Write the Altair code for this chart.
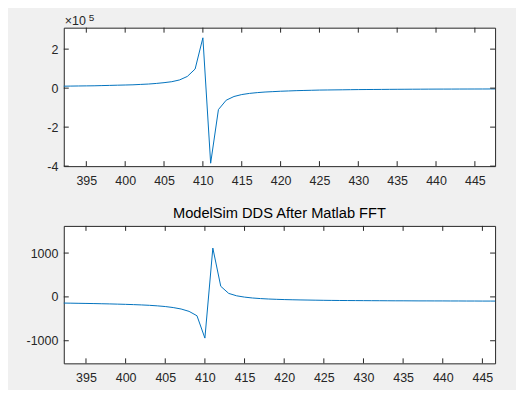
import altair as alt
import pandas as pd

# ---- data ----
x_top = list(range(392, 449))
y_top = [10000, 10500, 11000, 11500, 12000, 13000, 14000, 15000, 16000, 17000,
         19000, 21000, 24000, 28000, 33000, 42000, 60000, 98000, 258000, -385000,
         -110000, -62000, -43000, -33000, -27000, -23000, -20000, -18000, -16000, -14500,
         -13000, -12000, -11000, -10000, -9500, -9000, -8500, -8000, -7500, -7200,
         -6900, -6600, -6300, -6000, -5800, -5600, -5400, -5200, -5000, -4900,
         -4800, -4700, -4600, -4500, -4400, -4300, -4200]

x_bot = list(range(392, 448))
y_bot = [-140, -143, -146, -149, -152, -156, -160, -165, -170, -176,
         -183, -192, -204, -220, -243, -276, -330, -430, -940, 1114,
         242, 80, 25, -5, -25, -38, -48, -55, -61, -65,
         -69, -72, -75, -78, -80, -82, -83, -84, -85, -86,
         -87, -88, -89, -89, -90, -91, -91, -92, -92, -93,
         -93, -94, -94, -95, -95, -96]

x_ticks = [395, 400, 405, 410, 415, 420, 425, 430, 435, 440, 445]
y_ticks_top = [-400000, -200000, 0, 200000]
y_ticks_bot = [-1000, 0, 1000]

title_bot = "ModelSim DDS After Matlab FFT"
exp_base = "\u00d710"
exp_power = "5"

FONT = "Liberation Sans"
LINE = "#0072BD"
AX = "#262626"
W = 433
TICK = 5


def panel(xs, ys, xdom, ydom, yticks, h, label_expr, title=None):
    df = pd.DataFrame({"x": xs, "y": ys})
    xsc = alt.Scale(domain=xdom, nice=False, zero=False)
    ysc = alt.Scale(domain=ydom, nice=False, zero=False)
    xax = alt.Axis(values=x_ticks, ticks=False, tickSize=0, domain=False, grid=False,
                   labelPadding=8, labelFont=FONT, labelFontSize=12.5, labelColor=AX,
                   title=None, labelFlush=False)
    yax = alt.Axis(values=yticks, ticks=False, tickSize=0, domain=False, grid=False,
                   labelPadding=6, labelFont=FONT, labelFontSize=12.5, labelColor=AX,
                   title=None, labelExpr=label_expr, minExtent=55, maxExtent=55)
    line = alt.Chart(df).mark_line(color=LINE, strokeWidth=1, clip=True).encode(
        x=alt.X("x:Q", scale=xsc, axis=xax),
        y=alt.Y("y:Q", scale=ysc, axis=yax),
    )
    xt = pd.DataFrame({"x": x_ticks})
    yt = pd.DataFrame({"y": yticks})
    rule = dict(color=AX, strokeWidth=1)
    tb = alt.Chart(xt).mark_rule(**rule).encode(
        x=alt.X("x:Q", scale=xsc, axis=xax), y=alt.value(h), y2=alt.value(h - TICK))
    tt = alt.Chart(xt).mark_rule(**rule).encode(
        x=alt.X("x:Q", scale=xsc, axis=xax), y=alt.value(0), y2=alt.value(TICK))
    tl = alt.Chart(yt).mark_rule(**rule).encode(
        y=alt.Y("y:Q", scale=ysc, axis=yax), x=alt.value(0), x2=alt.value(TICK))
    tr = alt.Chart(yt).mark_rule(**rule).encode(
        y=alt.Y("y:Q", scale=ysc, axis=yax), x=alt.value(W - TICK), x2=alt.value(W))
    layers = [line, tb, tt, tl, tr]
    props = dict(width=W, height=h)
    if title is not None:
        props["title"] = alt.TitleParams(title, font=FONT, fontSize=14.7, fontWeight="normal",
                                         color="#000000", anchor="middle", baseline="alphabetic",
                                         offset=-7)
    return alt.layer(*layers).properties(**props)


top = panel(x_top, y_top, [392.1, 447.6], [-400000, 310000], y_ticks_top, 139,
            "'' + datum.value / 100000")
e1 = alt.Chart(pd.DataFrame({"a": [0]})).mark_text(
    text=exp_base, font=FONT, fontSize=12.5, color=AX, align="left", baseline="alphabetic"
).encode(x=alt.value(1), y=alt.value(-2.7))
e2 = alt.Chart(pd.DataFrame({"a": [0]})).mark_text(
    text=exp_power, font=FONT, fontSize=10, color=AX, align="left", baseline="alphabetic"
).encode(x=alt.value(25), y=alt.value(-7))
top = alt.layer(top, e1, e2)

bot = panel(x_bot, y_bot, [392.2, 446.6], [-1516, 1620], y_ticks_bot, 138,
            "'' + datum.value", title=title_bot)

chart = alt.vconcat(top, bot, spacing=18).properties(
    background="#F0F0F0",
    padding={"left": 0, "top": 3, "right": 20, "bottom": 5},
).configure_view(stroke=AX, strokeWidth=1, fill="white")

chart.save("out.html", embed_options={"renderer": "svg", "actions": False})
